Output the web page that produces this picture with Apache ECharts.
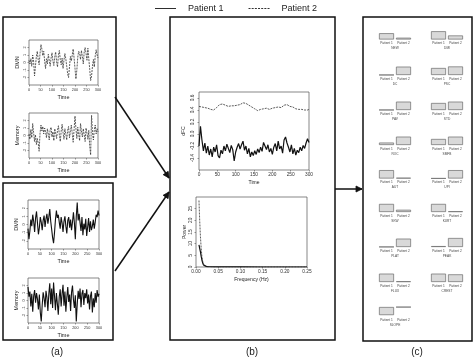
<!DOCTYPE html>
<html><head><meta charset="utf-8">
<script src="https://cdn.jsdelivr.net/npm/echarts@6/dist/echarts.min.js"></script>
<style>html,body{margin:0;padding:0;background:#fff}#c{width:474px;height:360px}</style>
</head><body><div id="c"></div>
<script>
const timeStep = 4;
const dmnP2 = [0.3,-0.2,0.5,-0.5,1.0,0.2,-1.8,-0.5,0.8,1.5,
0.4,-0.3,1.2,2.4,1.8,0.9,1.5,0.2,-0.8,0.5,
-0.2,1.1,0.3,-0.5,0.6,1.3,0.2,-0.4,0.8,1.4,
0.1,-0.6,1.0,1.6,0.4,-0.3,0.6,-0.8,0.3,1.2,
0.5,-0.5,-1.5,-2.0,-0.6,0.8,0.2,1.0,1.8,0.6,
-0.8,-2.2,-1.0,0.7,1.5,1.2,0.4,1.6,0.8,-0.2,
1.4,2.0,1.2,0.3,1.9,0.5,-0.9,-2.4,-1.8,-0.5,
0.4,-0.6,0.9,1.7,1.0,0.6];
const memP2 = [0.2,-0.5,0.8,-0.3,1.6,0.4,-0.8,0.1,-1.2,-0.4,
-1.0,-2.1,0.3,1.4,0.6,1.2,0.2,1.0,0.5,-0.3,
0.9,0.2,-0.6,0.8,1.1,-0.2,0.5,-0.7,0.9,0.3,
-0.4,0.7,1.3,0.1,-0.8,0.6,1.5,0.4,-0.5,0.9,
0.2,-0.6,0.7,1.2,-0.3,0.5,1.4,0.3,-0.9,0.8,
2.6,0.9,-0.4,1.1,0.2,-0.7,1.6,0.6,-0.2,0.9,
0.1,-0.8,1.0,0.3,-0.5,0.7,-1.4,-2.6,2.7,0.4,
-0.6,0.8,1.4,0.2,0.9,0.5];
const dmnP1 = [-0.5,-1.8,-0.8,0.6,-0.2,1.2,0.4,-0.9,0.8,1.6,
0.2,-1.2,-0.4,0.9,0.3,-0.7,0.5,1.1,-0.3,0.7,
1.3,0.1,0.9,1.9,0.4,-0.6,-1.6,-2.3,-1.0,0.6,
1.7,0.8,1.2,0.3,-0.5,0.9,0.2,-0.9,0.4,1.0,
-0.2,-1.1,0.5,0.9,-0.4,0.6,-0.7,0.3,1.5,0.2,
-1.8,1.0,2.7,0.5,1.3,0.2,-0.8,0.9,-1.3,0.1,
-0.6,0.7,-1.4,-0.3,0.8,-0.9,0.4,-0.7,-0.2,0.6,
-0.5,0.3,1.2,0.9,1.7,1.1];
const memP1 = [1.8,0.5,1.2,-0.8,0.9,-1.5,0.6,1.4,-0.3,1.0,
0.2,-1.2,0.8,-1.6,-2.8,-0.6,1.1,0.3,-0.9,1.3,
0.4,-1.4,0.9,2.3,-0.5,1.6,-1.0,2.4,0.6,-1.3,
1.0,-0.4,-1.9,0.5,1.5,-0.8,0.9,2.1,-0.7,1.2,
-1.5,0.4,1.8,-0.2,0.8,-1.4,1.1,2.0,0.1,-1.0,
0.7,-2.8,-0.5,1.3,0.2,1.6,-0.9,0.9,1.4,-0.6,
1.0,0.3,1.5,-0.4,0.8,-1.2,0.6,1.2,-1.6,0.3,
-0.9,1.0,-0.3,1.4,0.5,0.9];
const dfcP2 = [0.46,0.46,0.45,0.45,0.44,0.43,0.43,0.42,0.41,0.40,
0.40,0.42,0.44,0.47,0.49,0.50,0.50,0.49,0.48,0.47,
0.46,0.48,0.47,0.46,0.47,0.48,0.48,0.47,0.49,0.50,
0.52,0.52,0.51,0.49,0.48,0.46,0.45,0.44,0.42,0.40,
0.39,0.40,0.41,0.40,0.42,0.41,0.43,0.42,0.41,0.44,
0.43,0.45,0.44,0.43,0.45,0.46,0.44,0.46,0.48,0.50,
0.49,0.47,0.46,0.44,0.45,0.43,0.42,0.43,0.41,0.40,
0.41,0.39,0.40,0.39,0.40,0.41];
const dfcP1 = [-0.20,0.13,-0.10,-0.28,-0.15,-0.32,-0.20,-0.35,-0.25,-0.38,
-0.22,-0.30,-0.18,-0.36,-0.40,-0.27,-0.33,-0.20,-0.28,-0.17,
-0.24,-0.31,-0.19,-0.26,-0.45,-0.30,-0.22,-0.16,-0.25,-0.18,
-0.12,-0.27,-0.20,-0.33,-0.24,-0.38,-0.30,-0.36,-0.28,-0.34,
-0.25,-0.31,-0.22,-0.29,-0.14,-0.20,-0.26,-0.18,-0.30,-0.24,
-0.34,-0.22,-0.16,-0.28,-0.12,-0.25,-0.20,-0.32,-0.10,-0.05,
-0.15,-0.22,-0.30,-0.18,-0.33,-0.24,-0.35,-0.27,-0.31,-0.22,
-0.28,-0.19,-0.24,-0.15,-0.08,-0.14];
const freqHz = [0.0067,0.0083,0.01,0.0117,0.0133,0.015,0.0167,0.0183,0.02,0.025,0.03,0.04,0.05,0.1,0.15,0.2,0.25];
const powerP2 = [28.5,20,13,8,4.5,2.5,1.2,0.6,0.3,0.15,0.1,0.05,0.03,0.02,0.01,0.01,0.01];
const powerP1 = [9.5,8,6.5,4.5,3,1.8,0.9,0.4,0.2,0.12,0.1,0.05,0.03,0.02,0.01,0.01,0.01];
const features = ['NEW','DMI','DC','PSC','PAV','STD','ROC','SMFB','AUT','UPI','SKW','KURT','PLAT','PEAK','FLUX','CREST','SLOPE'];
const scoreP1 = [0.7,0.92,0.01,0.78,0.01,0.78,0.27,0.67,0.93,0.02,0.9,0.9,0.02,0.1,0.93,0.93,-0.9];
const scoreP2 = [0.2,0.45,0.93,0.95,0.93,0.93,0.93,0.93,0.08,0.93,0.25,0.08,0.93,1.0,0.08,0.85,-0.02];
const patientNames = ['Patient 1','Patient 2'];
const panelLabels = ['(a)','(b)','(c)'];

const FONT = '"Liberation Sans", Arial, sans-serif';
function timePairs(vals){ return vals.map((v,i)=>[i*timeStep, v]); }
function zip(xs, ys){ return xs.map((x,i)=>[x, ys[i]]); }

const solid = {color:'#111', width:1.1, type:'solid'};
const dashed = {color:'#333', width:0.8, type:[2,1]};

const grids=[], xAxes=[], yAxes=[], series=[];

function addLinePlot(c){
  const gi = grids.length;
  grids.push({left:c.box[0], top:c.box[1], width:c.box[2], height:c.box[3], show:true, borderColor:'#555', borderWidth:0.7, backgroundColor:'transparent'});
  xAxes.push({gridIndex:gi, type:'value', min:c.x[0], max:c.x[1], interval:c.x[2],
    name:c.xName, nameLocation:'middle', nameGap:c.xGap, nameTextStyle:{fontSize:c.nfs, color:'#222', fontFamily:FONT},
    axisLine:{show:false, onZero:false}, axisTick:{show:true, length:1.5, lineStyle:{color:'#555', width:0.6}},
    axisLabel:{fontSize:c.fs, margin:2.5, color:'#333', fontFamily:FONT, formatter:c.xFmt},
    splitLine:{show:false}});
  yAxes.push({gridIndex:gi, type:'value', min:c.y[0], max:c.y[1], interval:c.y[2],
    name:c.yName, nameLocation:'middle', nameGap:c.yGap, nameRotate:90, nameTextStyle:{fontSize:c.nfs, color:'#222', fontFamily:FONT},
    axisLine:{show:false, onZero:false}, axisTick:{show:true, length:1.5, lineStyle:{color:'#555', width:0.6}},
    axisLabel:{fontSize:c.fs, margin:c.yMargin||2.5, rotate:90, color:'#333', fontFamily:FONT, formatter:c.yFmt, showMinLabel:c.showMin!==false, showMaxLabel:c.showMax!==false},
    splitLine:{show:false}});
  c.lines.forEach(l=>series.push({type:'line', name:l.name, xAxisIndex:gi, yAxisIndex:gi, data:l.data, symbol:'none',
    lineStyle:l.style, itemStyle:{color:l.style.color}, animation:false, z:3}));
}

const aCommon = {x:[0,300,50], y:[-3,3,1], fs:3.8, nfs:5.5, xGap:9, yGap:9, showMin:false, showMax:false};
addLinePlot(Object.assign({}, aCommon, {box:[29,40,69,45], xName:'Time', yName:'DMN', lines:[{name:patientNames[1], data:timePairs(dmnP2), style:dashed}]}));
addLinePlot(Object.assign({}, aCommon, {box:[29,113,69,45], xName:'Time', yName:'Memory', lines:[{name:patientNames[1], data:timePairs(memP2), style:dashed}]}));
addLinePlot(Object.assign({}, aCommon, {box:[28,200,71,49], xName:'Time', yName:'DMN', lines:[{name:patientNames[0], data:timePairs(dmnP1), style:solid}]}));
addLinePlot(Object.assign({}, aCommon, {box:[28,278,71,45], xName:'Time', yName:'Memory', lines:[{name:patientNames[0], data:timePairs(memP1), style:solid}]}));

addLinePlot({box:[199,92,110,78], x:[0,300,50], y:[-0.6,0.7,0.2], fs:4.8, nfs:5, xGap:10, yGap:13, yMargin:4,
  showMin:false, showMax:false, xName:'Time', yName:'dFC', yFmt:v=>v.toFixed(1),
  lines:[{name:patientNames[0], data:timePairs(dfcP1), style:{color:'#111', width:1.2}}, {name:patientNames[1], data:timePairs(dfcP2), style:dashed}]});
addLinePlot({box:[196,197,111,70], x:[0,0.25,0.05], y:[0,30,5], fs:4.8, nfs:5, xGap:10, yGap:9, yMargin:3,
  showMax:false, xName:'Frequency (Hz)', yName:'Power', xFmt:v=>v.toFixed(2),
  lines:[{name:patientNames[0], data:zip(freqHz, powerP1), style:{color:'#111', width:1.2}}, {name:patientNames[1], data:zip(freqHz, powerP2), style:dashed}]});

const rowBottoms = [39.5,75,110,145,178.5,212,247,282,316];
features.forEach((f,i)=>{
  const row = Math.floor(i/2), col = i%2;
  const b = rowBottoms[row];
  const gi = grids.length;
  const neg = scoreP1[i] < 0 || scoreP2[i] < 0;
  grids.push({left: col ? 430 : 378, top: b-9, width:34, height:9});
  xAxes.push({gridIndex:gi, type:'category', data:patientNames, name:f, nameLocation:'middle', nameGap:7.5,
    nameTextStyle:{fontSize:3.2, color:'#444', fontFamily:FONT},
    axisLine:{show:false, onZero:false}, axisTick:{show:false},
    axisLabel:{fontSize:3.2, margin:2.2, color:'#444', interval:0, fontFamily:FONT}});
  yAxes.push({gridIndex:gi, type:'value', min:neg?-1:0, max:neg?0:1, show:false});
  series.push({type:'bar', name:'score', xAxisIndex:gi, yAxisIndex:gi, data:[scoreP1[i], scoreP2[i]], barWidth:15,
    itemStyle:{color:'#d9d9d9', borderColor:'#6a6a6a', borderWidth:0.7}, animation:false});
});

function arrow(x1,y1,x2,y2){
  const a = Math.atan2(y2-y1, x2-x1), L=6, W=3;
  const p1 = [x2 - L*Math.cos(a) + W*Math.sin(a), y2 - L*Math.sin(a) - W*Math.cos(a)];
  const p2 = [x2 - L*Math.cos(a) - W*Math.sin(a), y2 - L*Math.sin(a) + W*Math.cos(a)];
  return [
    {type:'line', shape:{x1,y1,x2,y2}, style:{stroke:'#111', lineWidth:1.5}},
    {type:'polygon', shape:{points:[p1,[x2,y2],p2]}, style:{fill:'#111', stroke:'#111', lineWidth:0.8}}
  ];
}
function box(x,y,w,h){ return {type:'rect', shape:{x,y,width:w,height:h}, style:{fill:null, stroke:'#111', lineWidth:1.5}}; }

const graphics = [
  box(3,17,113,160), box(3,183,110,157), box(170,17,165,323), box(363,17,109,324),
  ...arrow(115,97,169,178), ...arrow(115,271,169,192), ...arrow(335,189,362,189),
  {type:'text', x:57, y:352, style:{text:panelLabels[0], font:'10px '+FONT, fill:'#222', textAlign:'center', textVerticalAlign:'middle'}},
  {type:'text', x:252, y:352, style:{text:panelLabels[1], font:'10px '+FONT, fill:'#222', textAlign:'center', textVerticalAlign:'middle'}},
  {type:'text', x:417, y:352, style:{text:panelLabels[2], font:'10px '+FONT, fill:'#222', textAlign:'center', textVerticalAlign:'middle'}}
];

// legend icons: solid bar and dashed segments (stretched to itemWidth x itemHeight)
const solidIcon = 'path://M0,0H24V1H0Z';
let dashPath = '';
for (let k = 0; k < 7; k++) dashPath += 'M' + (k*3.5) + ',0h2.2v1h-2.2Z';
const dashIcon = 'path://' + dashPath;

const chart = echarts.init(document.getElementById('c'), null, {renderer:'canvas'});
chart.setOption({
  backgroundColor:'#fff',
  animation:false,
  color:['#111','#333'],
  legend:{data:[{name:patientNames[0], icon:solidIcon, itemStyle:{color:'#111'}},{name:patientNames[1], icon:dashIcon, itemStyle:{color:'#333'}}],
    left:155, top:4, itemWidth:21, itemHeight:1.3, itemGap:25, padding:0,
    textStyle:{fontSize:9, color:'#222', fontFamily:FONT, padding:[0,0,0,7]}, selectedMode:false},
  grid:grids, xAxis:xAxes, yAxis:yAxes, series:series,
  graphic:graphics
});
</script></body></html>
